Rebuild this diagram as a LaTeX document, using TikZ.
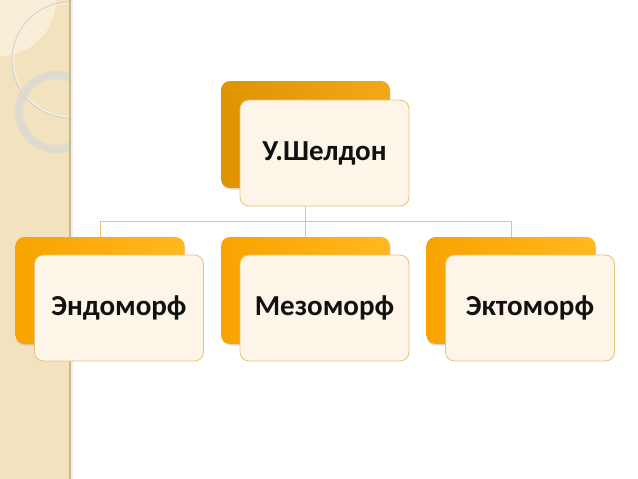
\documentclass[tikz,border=0pt]{standalone}
\usepackage{fontspec}
\setmainfont{Carlito}
\usetikzlibrary{shadows}
\definecolor{strip}{HTML}{F2E2BD}
\definecolor{stripLight}{HTML}{F8EDD6}
\definecolor{stripEdge}{HTML}{C9B792}
\definecolor{ringGray}{HTML}{DEDAD0}
\definecolor{ringLine}{HTML}{F4F0E6}
\definecolor{topA}{HTML}{DF9300}
\definecolor{topB}{HTML}{F2A81A}
\definecolor{botA}{HTML}{F8A300}
\definecolor{botB}{HTML}{FFB820}
\definecolor{frontFill}{HTML}{FDF5E8}
\definecolor{frontLine}{HTML}{E8C37A}
\definecolor{connLine}{HTML}{EBC173}
\definecolor{txt}{HTML}{111111}
\tikzset{
  backbox/.style={rectangle, rounded corners=9pt, minimum width=169pt, minimum height=107pt,
    inner sep=0pt, drop shadow={opacity=0.25, shadow xshift=0.5pt, shadow yshift=-1.5pt}},
  backtop/.style={backbox, left color=topA, right color=topB},
  backbot/.style={backbox, left color=botA, right color=botB},
  frontbox/.style={rectangle, rounded corners=9pt, minimum width=169pt, minimum height=106pt,
    inner sep=0pt, fill=frontFill, draw=frontLine, line width=0.8pt,
    font=\fontsize{29}{32}\selectfont\bfseries, text=txt},
  conn/.style={draw=connLine, line width=1pt}
}
\begin{document}
\begin{tikzpicture}[x=1pt,y=-1pt]
\useasboundingbox (0,0) rectangle (638,479);
\fill[white] (0,0) rectangle (638,479);
% left decorative strip
\fill[strip] (0,0) rectangle (70,479);
\begin{scope}
  \clip (0,0) rectangle (70,479);
  \fill[stripLight] (0,0) -- (56,0) arc[start angle=0,end angle=90,radius=56] -- cycle;
  \draw[ringLine, line width=1.6pt] (70,60) circle[radius=57];
  \draw[black!25, line width=0.5pt] (70,60) circle[radius=58];
  \draw[ringGray, line width=8pt, opacity=0.9] (56,112) circle[radius=37];
\end{scope}
\draw[stripEdge, line width=1.5pt] (70,0) -- (70,479);
\draw[black!6, line width=2pt] (72,0) -- (72,479);
% back boxes
\node[backtop] (topback) at (305.5,134.5) {};
\node[backbot] (lback) at (100,290.5) {};
\node[backbot] (mback) at (305.5,290.5) {};
\node[backbot] (rback) at (511,290.5) {};
% connectors
\coordinate (hl) at (100,221);
\coordinate (hr) at (511,221);
\draw[conn] (topback.south) -- (mback.north);
\draw[conn] (hl) -- (hr);
\draw[conn] (hl) -- (lback.north);
\draw[conn] (hr) -- (rback.north);
% front boxes
\node[frontbox] (top) at (324.5,153) {У.Шелдон};
\node[frontbox] (endo) at (119,308) {Эндоморф};
\node[frontbox] (mezo) at (324.5,308) {Мезоморф};
\node[frontbox] (ekto) at (530,308) {Эктоморф};
\end{tikzpicture}
\end{document}
